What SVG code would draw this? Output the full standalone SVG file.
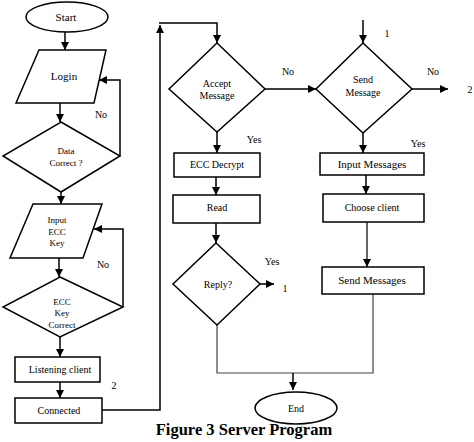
<svg xmlns="http://www.w3.org/2000/svg" width="474" height="442" viewBox="0 0 474 442">
<defs>
<marker id="ah" markerUnits="userSpaceOnUse" markerWidth="9" markerHeight="9" refX="8" refY="4" orient="auto">
<path d="M0,0 L8,4 L0,8 z" fill="#000"/>
</marker>
<style>
.s{fill:#fff;stroke:#000;stroke-width:1.5}
.c{fill:none;stroke:#000;stroke-width:1.5}
.ca{fill:none;stroke:#000;stroke-width:1.5;marker-end:url(#ah)}
.g{fill:none;stroke:#444;stroke-width:1.2}
text{font-family:"Liberation Serif","Times New Roman",serif;fill:#000;text-anchor:middle}
.t10{font-size:10px}
.t9{font-size:9px}
.t11{font-size:11px}
.lab{font-size:10px}
</style>
</defs>
<rect width="474" height="442" fill="#fff"/>
<g id="connectors">
<path class="ca" d="M65,31 V50"/>
<path class="ca" d="M60,103 V122"/>
<path class="ca" d="M120,156 V80 H99"/>
<path class="ca" d="M61,192 V204"/>
<path class="ca" d="M123,307 V229 H94"/>
<path class="ca" d="M59,258 V277"/>
<path class="ca" d="M60,337 V357"/>
<path class="ca" d="M60,382 V398"/>
<path class="ca" d="M102,410 H160 V25"/>
<path class="ca" d="M159,23 H217 V43"/>
<path class="ca" d="M265,89 H316"/>
<path class="ca" d="M217,132 V153"/>
<path class="ca" d="M216,177 V195"/>
<path class="ca" d="M216,223 V243"/>
<path class="ca" d="M260,284 H274"/>
<path class="ca" d="M363,20 V43"/>
<path class="ca" d="M412,89 H448"/>
<path class="ca" d="M363,133 V153"/>
<path class="ca" d="M366,175 V194"/>
<path class="ca" d="M367,222 V267" style="stroke-width:1.2"/>
<path class="g" d="M217,325 V373 H373 V294"/>
<path class="ca" d="M293,373 V390"/>
</g>
<g id="start"><ellipse class="s" cx="67" cy="17" rx="41" ry="15"/><text class="t11" x="66" y="21">Start</text></g>
<g id="login"><polygon class="s" points="39,50 106,50 94,103 16,103"/><text class="t11" x="64" y="80">Login</text></g>
<g id="dataCorrect"><polygon class="s" points="61,122 120,156 61,192 3,156"/><text class="t9" x="66" y="154">Data</text><text class="t9" x="66" y="166">Correct ?</text></g>
<g id="inputKey"><polygon class="s" points="33,204 102,204 83,258 10,258"/><text class="t9" x="57" y="223">Input</text><text class="t9" x="57" y="235">ECC</text><text class="t9" x="57" y="246">Key</text></g>
<g id="keyCorrect"><polygon class="s" points="60,277 123,307 60,337 3,307"/><text class="t9" x="62" y="305">ECC</text><text class="t9" x="62" y="316">Key</text><text class="t9" x="62" y="328">Correct</text></g>
<g id="listening"><rect class="s" x="15" y="357" width="85" height="25"/><text class="t10" x="60" y="373">Listening client</text></g>
<g id="connected"><rect class="s" x="15" y="398" width="87" height="25"/><text class="t10" x="59" y="414">Connected</text></g>
<g id="accept"><polygon class="s" points="217,43 265,89 217,132 169,89"/><text class="t10" x="217" y="87">Accept</text><text class="t10" x="217" y="99">Message</text></g>
<g id="decrypt"><rect class="s" x="174" y="153" width="86" height="24"/><text class="t10" x="217" y="168">ECC Decrypt</text></g>
<g id="read"><rect class="s" x="173" y="195" width="87" height="28"/><text class="t10" x="217" y="211">Read</text></g>
<g id="reply"><polygon class="s" points="216,243 260,284 217,325 173,284"/><text class="t10" x="218" y="288">Reply?</text></g>
<g id="send"><polygon class="s" points="363,43 412,89 363,133 316,89"/><text class="t10" x="363" y="83">Send</text><text class="t10" x="363" y="96">Message</text></g>
<g id="inputMsg"><rect class="s" x="320" y="153" width="104" height="22"/><text class="t11" x="372" y="168">Input Messages</text></g>
<g id="choose"><rect class="s" x="323" y="194" width="101" height="28"/><text class="t10" x="372" y="211">Choose client</text></g>
<g id="sendMsg"><rect class="s" x="322" y="267" width="102" height="27"/><text class="t11" x="372" y="284">Send Messages</text></g>
<g id="end"><ellipse class="s" cx="296" cy="408" rx="41" ry="16"/><text class="t10" x="296" y="412">End</text></g>
<g id="labels">
<text class="lab" x="101" y="118">No</text>
<text class="lab" x="103" y="268">No</text>
<text class="lab" x="114" y="389">2</text>
<text class="lab" x="288" y="75">No</text>
<text class="lab" x="254" y="143">Yes</text>
<text class="lab" x="272" y="265">Yes</text>
<text class="lab" x="285" y="292">1</text>
<text class="lab" x="387" y="37">1</text>
<text class="lab" x="433" y="75">No</text>
<text class="lab" x="418" y="147">Yes</text>
<text class="lab" x="470" y="93">2</text>
</g>
<text x="244" y="435" style="font-size:16.5px;font-weight:bold">Figure 3 Server Program</text>
</svg>
